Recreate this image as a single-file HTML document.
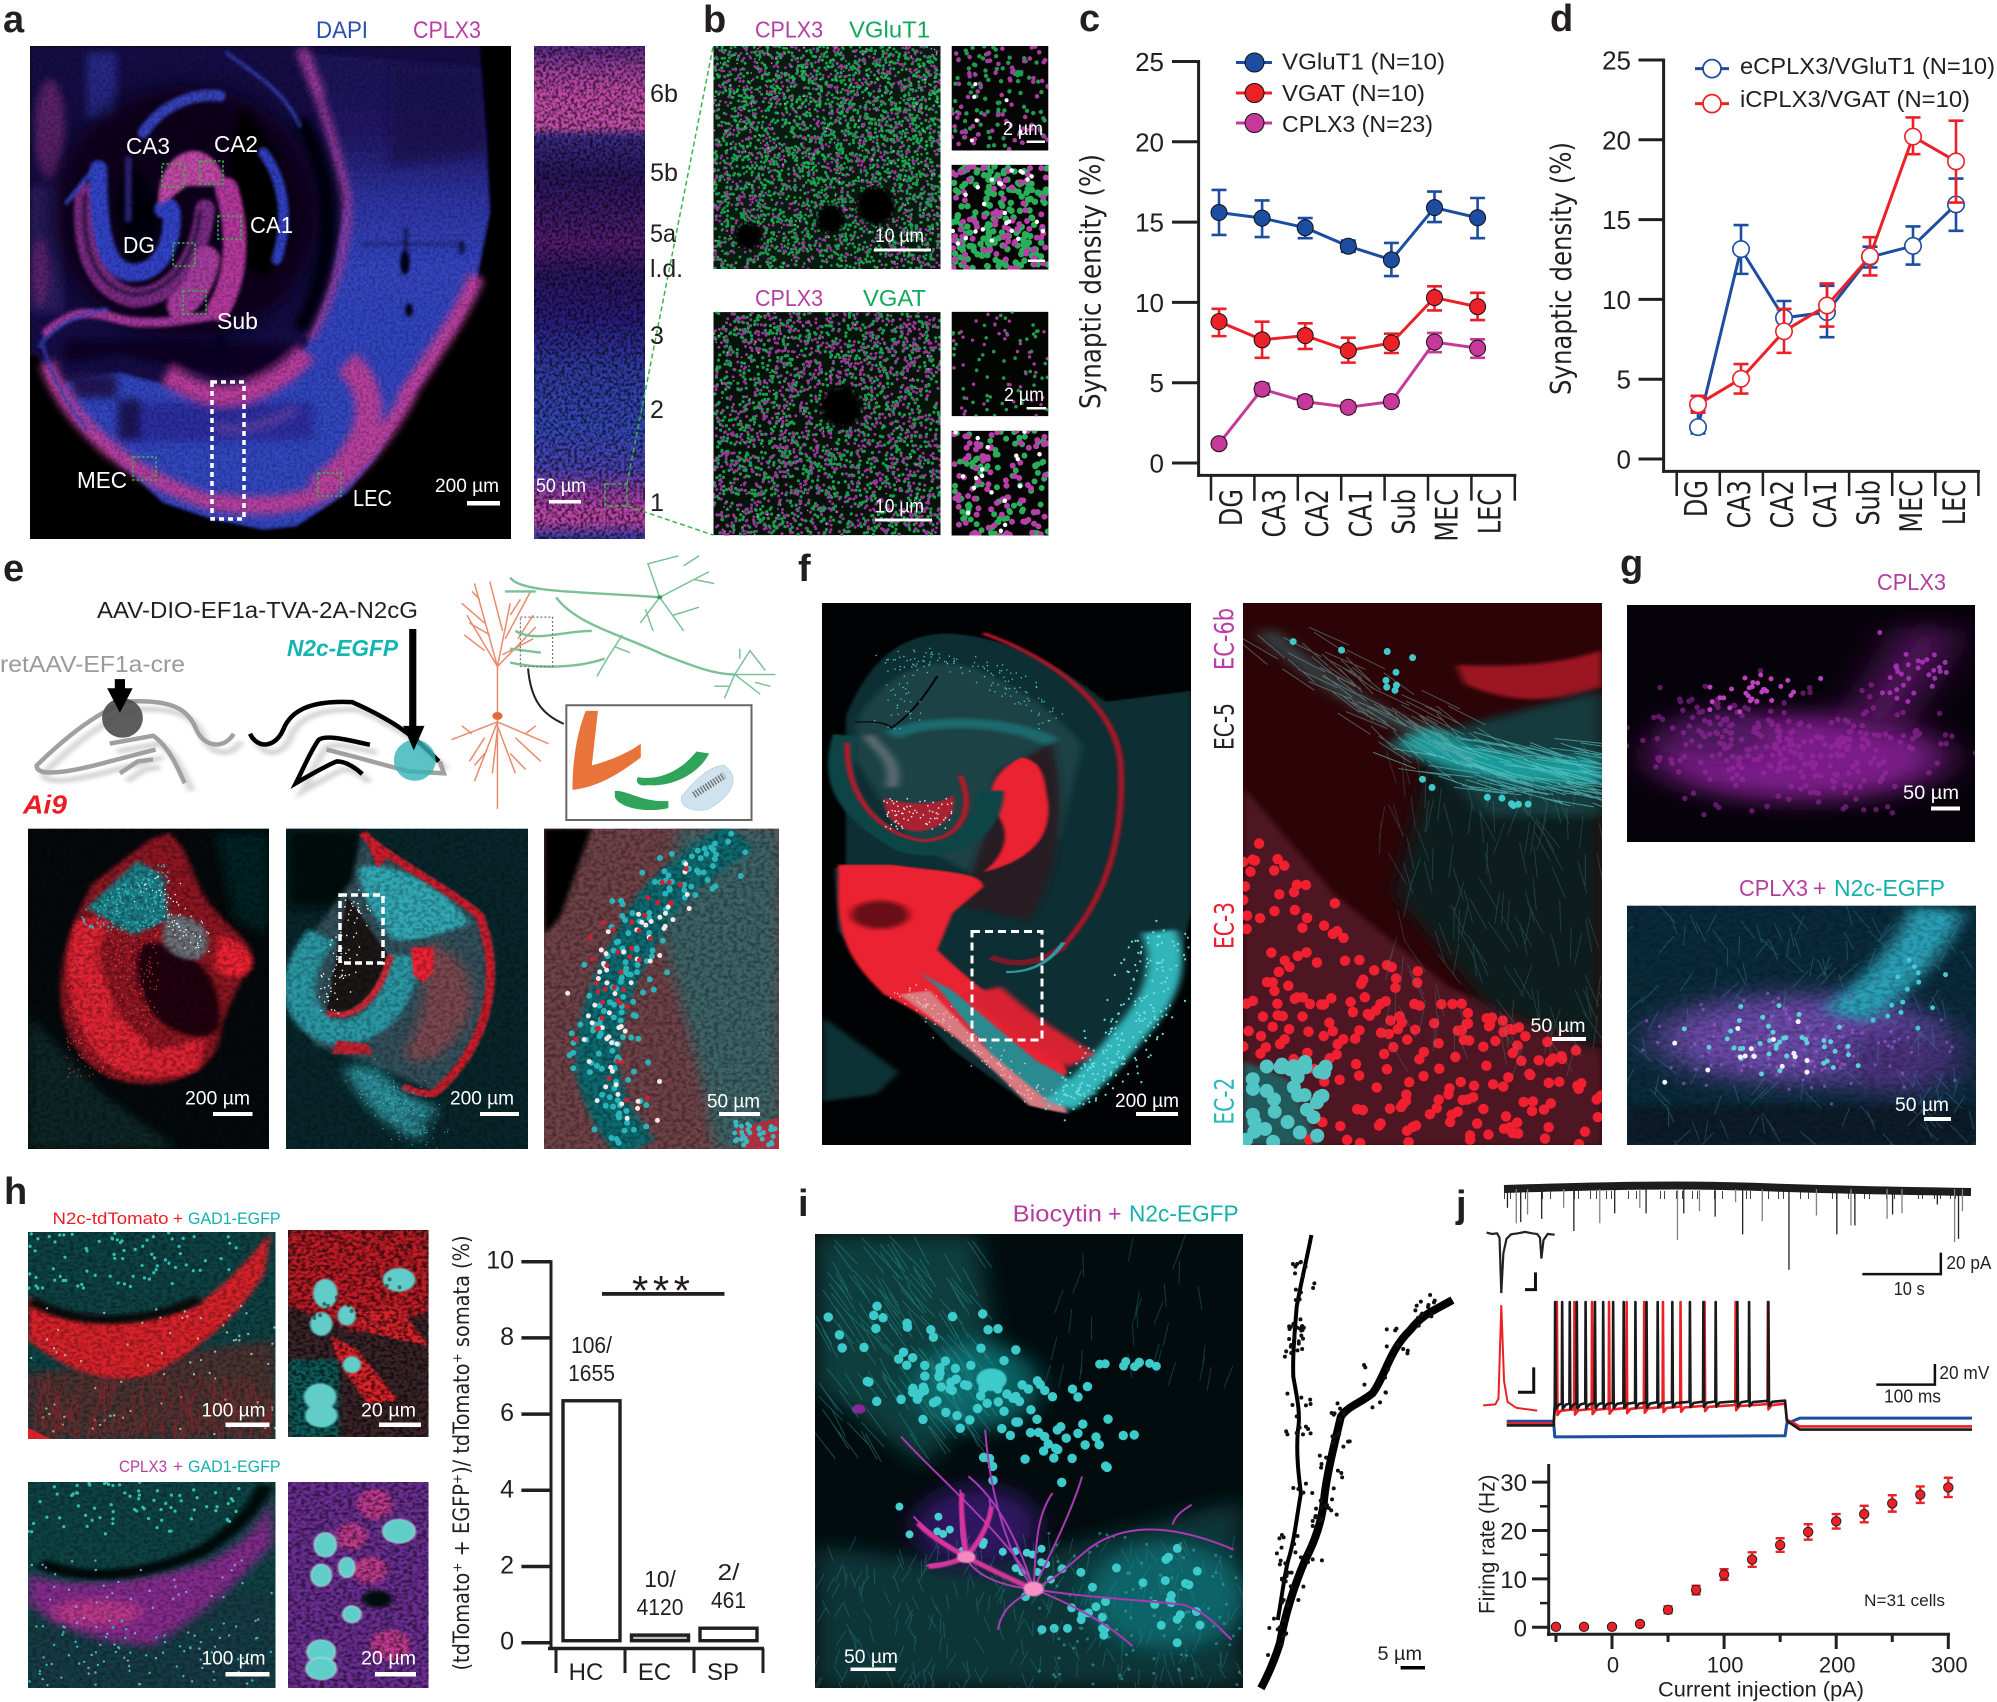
<!DOCTYPE html>
<html lang="en">
<head>
<meta charset="utf-8">
<title>Multi-panel figure: CPLX3 synaptic density and N2c tracing</title>
<style>
html,body{margin:0;padding:0;background:#fff;}
svg{display:block;}
text{font-family:"Liberation Sans",sans-serif;fill:#231f20;}
.ltr{font-weight:bold;font-size:38px;fill:#231f20;}
.wh{fill:#fff;font-size:19px;}
.wide{font-family:"DejaVu Sans",sans-serif;}
.ns{vector-effect:non-scaling-stroke;fill:none;}
</style>
</head>
<body>
<svg id="fig" xmlns="http://www.w3.org/2000/svg" width="1997" height="1702" viewBox="0 0 1997 1702">
<defs>
<filter id="b1" filterUnits="userSpaceOnUse" x="-500" y="-500" width="3500" height="3500"><feGaussianBlur stdDeviation="2"/></filter>
<filter id="b2" filterUnits="userSpaceOnUse" x="-500" y="-500" width="3500" height="3500"><feGaussianBlur stdDeviation="5"/></filter>
<filter id="b3" filterUnits="userSpaceOnUse" x="-500" y="-500" width="3500" height="3500"><feGaussianBlur stdDeviation="12"/></filter>
<filter id="b4" filterUnits="userSpaceOnUse" x="-500" y="-500" width="3500" height="3500"><feGaussianBlur stdDeviation="30"/></filter>
<filter id="grain" x="0" y="0" width="100%" height="100%"><feTurbulence type="fractalNoise" baseFrequency=".11" numOctaves="2" seed="4"/><feColorMatrix values="0 0 0 0 0 0 0 0 0 0 0 0 0 0 0 3.5 0 0 0 -1.4"/></filter>
<filter id="grainP" x="0" y="0" width="100%" height="100%"><feTurbulence type="fractalNoise" baseFrequency=".32" numOctaves="2" seed="9"/><feColorMatrix values="0 0 0 0 0 0 0 0 0 0 0 0 0 0 0 3.5 0 0 0 -1.4"/></filter>
<linearGradient id="aCortex" gradientUnits="userSpaceOnUse" x1="0" y1="100" x2="0" y2="1100"><stop offset="0" stop-color="#1c145a"/><stop offset=".18" stop-color="#231a68"/><stop offset=".36" stop-color="#2e34a4"/><stop offset=".55" stop-color="#3444c0"/><stop offset="1" stop-color="#3346c0"/></linearGradient>
<linearGradient id="aStrip" x1="0" y1="0" x2="0" y2="1">
<stop offset="0" stop-color="#5a2a88"/><stop offset=".05" stop-color="#a0409f"/><stop offset=".1" stop-color="#c24aa8"/><stop offset=".165" stop-color="#c04fa8"/><stop offset=".185" stop-color="#3c2c88"/><stop offset=".26" stop-color="#2a1660"/><stop offset=".34" stop-color="#3f1a6c"/><stop offset=".4" stop-color="#561c74"/><stop offset=".46" stop-color="#2b1662"/><stop offset=".55" stop-color="#2a1c7c"/><stop offset=".66" stop-color="#2f3ca4"/><stop offset=".78" stop-color="#3548b8"/><stop offset=".86" stop-color="#4a42b2"/><stop offset=".9" stop-color="#8c3ca6"/><stop offset=".945" stop-color="#bd46a8"/><stop offset=".965" stop-color="#b845a8"/><stop offset="1" stop-color="#2f3ca8"/></linearGradient>
</defs>

<!-- PANEL A -->
<text class="ltr" x="3" y="32">a</text>
<text x="316" y="38" font-size="24" style="fill:#2b4fb0" textLength="52" lengthAdjust="spacingAndGlyphs">DAPI</text>
<text x="413" y="38" font-size="24" style="fill:#b83fa3" textLength="68" lengthAdjust="spacingAndGlyphs">CPLX3</text>

<svg x="30" y="46" width="481" height="493" viewBox="0 0 1443 1479" preserveAspectRatio="none">
<rect width="1443" height="1479" fill="#000"/>
<path d="M0 0H1350L1370 300 1380 500 1340 700 1300 800 1200 960 1120 1090 1040 1230 950 1340 800 1440 700 1450 550 1420 400 1370 250 1230 140 1130 60 1000 20 930H0Z" fill="#150d46" filter="url(#b2)"/>
<path d="M820 20L1350 60 1370 300 1380 500 1340 700 1300 800 1200 960 1120 1090 1040 1230 950 1340 800 1440 700 1450 550 1420 400 1370 250 1230 140 1130 90 1010 270 980 420 1020 560 1080 700 1030 830 900 900 720 950 450 880 250Z" fill="url(#aCortex)" filter="url(#b2)"/>
<g filter="url(#b3)">
<path d="M1080 60L1350 70 1370 320 1080 360Z" fill="#1a1050" opacity=".7"/>
<path d="M260 1070L850 1070 850 1180 260 1190Z" fill="#2a2494" opacity=".7"/>
<path d="M110 880L540 890 800 900 680 990 560 990 420 960 270 925 100 950Z" fill="#0c0626"/>
<path d="M115 985L260 985 260 1055 135 1055Z" fill="#241656"/>
<rect x="265" y="1060" width="65" height="120" fill="#1c1258"/>
<rect x="170" y="20" width="90" height="200" fill="#2a3098" opacity=".8"/>
<ellipse cx="60" cy="250" rx="45" ry="150" fill="#6a2470" opacity=".8"/>
<path d="M0 420H100V800H0Z" fill="#2a1a60"/>
<ellipse cx="30" cy="680" rx="25" ry="100" fill="#5a2070"/>
<path d="M1340 690C1300 800 1200 940 1120 1060" stroke="#bb3f9e" stroke-width="48" fill="none"/>
<path d="M1140 1040C1070 1170 990 1270 880 1345 760 1395 640 1385 540 1368 420 1330 330 1280 240 1210 150 1130 90 1060 50 950" stroke="#bb3f9e" stroke-width="46" fill="none"/>
<path d="M950 950C1020 1010 1030 1100 1000 1170 960 1260 900 1300 860 1335" stroke="#b73f9e" stroke-width="80" fill="none"/>
<path d="M880 1340C760 1385 640 1385 560 1365" stroke="#b93f9e" stroke-width="52" fill="none"/>
<path d="M810 10C860 120 920 300 950 450 960 600 900 760 840 880" stroke="#a33c9c" stroke-width="24" fill="none"/>
<path d="M815 10L870 150" stroke="#9c3a9c" stroke-width="36" fill="none"/>
<path d="M830 920C750 1010 650 1055 560 1048 500 1035 450 1015 410 985" stroke="#b93e9c" stroke-width="62" fill="none"/>
<path d="M560 1140C620 1170 720 1130 800 1090" stroke="#5a3ca8" stroke-width="26" fill="none"/>
</g>
<ellipse cx="470" cy="500" rx="400" ry="380" fill="#09041e" filter="url(#b4)"/>
<g filter="url(#b3)">
<path d="M640 180C740 300 780 420 780 560 770 600 750 640 700 700L620 620 600 320Z" fill="#000"/>
<path d="M260 480C280 600 300 680 330 660 390 640 390 560 385 480 370 430 310 350 290 360Z" fill="#02010c"/>
<path d="M810 220C910 400 930 620 810 850" stroke="#03020e" stroke-width="46" fill="none"/>
</g>
<g filter="url(#b2)" fill="none" stroke-linecap="round">
<path d="M590 20C680 90 760 130 810 240" stroke="#3a46c0" stroke-width="9"/>
<path d="M340 260C400 170 500 140 570 150" stroke="#3542bc" stroke-width="34"/>
<path d="M700 320C760 400 780 520 740 640" stroke="#3240c4" stroke-width="32"/>
<path d="M295 340V520" stroke="#2e2278" stroke-width="20"/>
<path d="M165 440C150 600 190 730 310 755 430 755 510 640 525 490" stroke="#7a2a82" stroke-width="60"/>
<path d="M165 450C155 600 190 725 310 745 420 745 495 640 510 500" stroke="#2c1248" stroke-width="13"/>
<path d="M205 370C205 520 215 680 310 680 400 680 430 580 425 500 420 480 410 475 400 490" stroke="#3042c8" stroke-width="54"/>
<path d="M110 470L190 370" stroke="#3548c8" stroke-width="12"/>
<path d="M385 475C380 370 440 310 500 315 560 325 585 390 590 420L470 420 430 450Z" fill="#c04aa5"/>
<path d="M590 430C630 560 620 700 565 790" stroke="#b4389c" stroke-width="70"/>
<path d="M530 640C520 700 490 750 450 780" stroke="#a63d9e" stroke-width="80"/>
<path d="M540 810C420 830 330 840 250 815 180 795 130 790 50 860" stroke="#a5389c" stroke-width="28"/>
<path d="M30 900C60 850 140 800 230 790" stroke="#3a46c0" stroke-width="10"/>
<path d="M40 900C70 1010 120 1090 170 1150" stroke="#3642bc" stroke-width="8"/>
</g>
<g filter="url(#b2)" fill="#05031c">
<ellipse cx="1125" cy="650" rx="14" ry="36"/><ellipse cx="1137" cy="792" rx="11" ry="20"/>
<rect x="1120" y="545" width="14" height="110" opacity=".5"/><rect x="990" y="590" width="310" height="9" opacity=".35"/><ellipse cx="1295" cy="605" rx="10" ry="22" opacity=".6"/><rect x="560" y="850" width="24" height="80" opacity=".6"/>
</g>
<rect width="1443" height="1479" filter="url(#grain)" opacity=".22"/>
</svg>
<g fill="none" stroke="#39b54a" stroke-width="1.5" stroke-dasharray="2.5 2">
<rect x="162" y="164" width="22" height="23"/><rect x="200" y="161" width="23" height="23"/><rect x="218" y="216" width="23" height="23"/><rect x="173" y="243" width="22" height="23"/><rect x="183" y="291" width="23" height="23"/><rect x="133" y="457" width="23" height="23"/><rect x="318" y="473" width="23" height="23"/>
</g>
<rect x="212" y="382" width="32" height="137" fill="none" stroke="#fff" stroke-width="3.5" stroke-dasharray="5 4"/>
<g>
<text class="wh" x="126" y="154" textLength="44" lengthAdjust="spacingAndGlyphs" style="font-size:23px">CA3</text>
<text class="wh" x="214" y="152" style="font-size:23px" textLength="44" lengthAdjust="spacingAndGlyphs">CA2</text>
<text class="wh" x="250" y="233" style="font-size:23px" textLength="43" lengthAdjust="spacingAndGlyphs">CA1</text>
<text class="wh" x="123" y="253" style="font-size:23px" textLength="32" lengthAdjust="spacingAndGlyphs">DG</text>
<text class="wh" x="217" y="329" style="font-size:23px" textLength="41" lengthAdjust="spacingAndGlyphs">Sub</text>
<text class="wh" x="77" y="488" style="font-size:23px" textLength="50" lengthAdjust="spacingAndGlyphs">MEC</text>
<text class="wh" x="353" y="506" style="font-size:23px" textLength="39" lengthAdjust="spacingAndGlyphs">LEC</text>
<text class="wh" x="435" y="492" textLength="64" lengthAdjust="spacingAndGlyphs">200 µm</text>
<rect x="467" y="501" width="33" height="4.5" fill="#fff"/>
</g>

<svg x="534" y="46" width="111" height="493" viewBox="0 0 111 493" preserveAspectRatio="none">
<rect width="111" height="493" fill="url(#aStrip)"/>
<rect width="111" height="493" filter="url(#grainP)" opacity=".6"/>
</svg>
<text class="wh" x="536" y="492" textLength="50" lengthAdjust="spacingAndGlyphs">50 µm</text>
<rect x="549" y="500" width="32" height="3.5" fill="#fff"/>
<rect x="605" y="484" width="22" height="22" fill="none" stroke="#39b54a" stroke-width="1.5" stroke-dasharray="4 2.5"/>
<g stroke="#39b54a" stroke-width="1.5" stroke-dasharray="5 3">
<line x1="627" y1="484" x2="713" y2="47"/>
<line x1="627" y1="506" x2="713" y2="535"/>
</g>
<g font-size="25">
<text x="650" y="102" textLength="28" lengthAdjust="spacingAndGlyphs">6b</text>
<text x="650" y="181" textLength="28" lengthAdjust="spacingAndGlyphs">5b</text>
<text x="650" y="242" textLength="26" lengthAdjust="spacingAndGlyphs">5a</text>
<text x="650" y="277" textLength="33" lengthAdjust="spacingAndGlyphs">l.d.</text>
<text x="650" y="344">3</text>
<text x="650" y="418">2</text>
<text x="650" y="511">1</text>
</g>

<!-- PANEL B -->
<text class="ltr" x="703" y="32">b</text>
<text x="755" y="37.6" font-size="23" style="fill:#b23fa0" textLength="68" lengthAdjust="spacingAndGlyphs">CPLX3</text>
<text x="849" y="37.6" font-size="23" style="fill:#12a85a" textLength="81" lengthAdjust="spacingAndGlyphs">VGluT1</text>
<text x="755" y="306" font-size="23" style="fill:#b23fa0" textLength="68" lengthAdjust="spacingAndGlyphs">CPLX3</text>
<text x="863" y="306" font-size="23" style="fill:#12a85a" textLength="63" lengthAdjust="spacingAndGlyphs">VGAT</text>
<svg id="b1a" x="713.5" y="46" width="227" height="223" viewBox="0 0 227 223"><rect width="227" height="223" fill="#0a1a10"/></svg>
<svg id="b1b" x="951.5" y="46" width="97" height="104.5" viewBox="0 0 97 105"><rect width="97" height="105" fill="#050505"/></svg>
<svg id="b1c" x="951.5" y="164.7" width="97" height="104.8" viewBox="0 0 97 105"><rect width="97" height="105" fill="#050505"/></svg>
<svg id="b2a" x="713.5" y="311.7" width="227" height="223.8" viewBox="0 0 227 223"><rect width="227" height="223" fill="#07120b"/></svg>
<svg id="b2b" x="951.5" y="311.7" width="97" height="104.5" viewBox="0 0 97 105"><rect width="97" height="105" fill="#030503"/></svg>
<svg id="b2c" x="951.5" y="430.7" width="97" height="104.8" viewBox="0 0 97 105"><rect width="97" height="105" fill="#050505"/></svg>
<g>
<text class="wh" x="875" y="242" textLength="49" lengthAdjust="spacingAndGlyphs">10 µm</text><rect x="874" y="248.5" width="57" height="3" fill="#fff"/>
<text class="wh" x="1003" y="135" textLength="40" lengthAdjust="spacingAndGlyphs">2 µm</text><rect x="1026.6" y="140.5" width="18.4" height="2.5" fill="#fff"/>
<rect x="1028" y="259.5" width="17" height="2.5" fill="#fff"/>
<text class="wh" x="875" y="512.6" textLength="49" lengthAdjust="spacingAndGlyphs">10 µm</text><rect x="875" y="518.5" width="57" height="3" fill="#fff"/>
<text class="wh" x="1004" y="401" textLength="40" lengthAdjust="spacingAndGlyphs">2 µm</text><rect x="1026.6" y="407" width="19.4" height="2.5" fill="#fff"/>
</g>

<!-- PANEL C and D -->
<text class="ltr" x="1079" y="31">c</text>
<text class="ltr" x="1550" y="31">d</text>
<g id="chartC">
<text class="wide" transform="translate(1100.6,409) rotate(-90) scale(1,1.28)" font-size="22" textLength="255" lengthAdjust="spacingAndGlyphs">Synaptic density (%)</text>
</g>
<g>
<g><line x1="1236" x2="1272" y1="62.5" y2="62.5" stroke="#1c4da1" stroke-width="3"/><circle cx="1254.5" cy="62.5" r="9.5" fill="#1c4da1" stroke="#111" stroke-width="1"/><text x="1282" y="69.6" font-size="23" textLength="163" lengthAdjust="spacingAndGlyphs">VGluT1 (N=10)</text></g>
<g><line x1="1236" x2="1272" y1="93" y2="93" stroke="#ec2027" stroke-width="3"/><circle cx="1254.5" cy="93" r="9.5" fill="#ec2027" stroke="#111" stroke-width="1"/><text x="1282" y="101" font-size="23" textLength="143" lengthAdjust="spacingAndGlyphs">VGAT (N=10)</text></g>
<g><line x1="1236" x2="1272" y1="123" y2="123" stroke="#c6399a" stroke-width="3"/><circle cx="1254.5" cy="123" r="9.5" fill="#c6399a" stroke="#111" stroke-width="1"/><text x="1282" y="132" font-size="23" textLength="151" lengthAdjust="spacingAndGlyphs">CPLX3 (N=23)</text></g>
</g>
<g id="chartD">
<text class="wide" transform="translate(1571,395) rotate(-90) scale(1,1.28)" font-size="22" textLength="253" lengthAdjust="spacingAndGlyphs">Synaptic density (%)</text>
</g>
<g>
<g><line x1="1695" x2="1729" y1="68.6" y2="68.6" stroke="#1c4da1" stroke-width="3"/><circle cx="1712" cy="68.6" r="9" fill="#fff" stroke="#1c4da1" stroke-width="1.8"/><text x="1740" y="74" font-size="23" textLength="255" lengthAdjust="spacingAndGlyphs">eCPLX3/VGluT1 (N=10)</text></g>
<g><line x1="1695" x2="1729" y1="103.6" y2="103.6" stroke="#ec2027" stroke-width="3"/><circle cx="1712" cy="103.6" r="9" fill="#fff" stroke="#ec2027" stroke-width="1.8"/><text x="1740" y="107" font-size="23" textLength="230" lengthAdjust="spacingAndGlyphs">iCPLX3/VGAT (N=10)</text></g>
</g>

<!-- PANEL E -->
<text class="ltr" x="3" y="581">e</text>
<text x="97" y="618" font-size="23" textLength="321" lengthAdjust="spacingAndGlyphs">AAV-DIO-EF1a-TVA-2A-N2cG</text>
<text x="287" y="656" font-size="23" font-weight="bold" font-style="italic" style="fill:#12b5b0" textLength="111" lengthAdjust="spacingAndGlyphs">N2c-EGFP</text>
<text x="0" y="672" font-size="23" style="fill:#9a9a9a" textLength="185" lengthAdjust="spacingAndGlyphs">retAAV-EF1a-cre</text>
<text x="23" y="813.6" font-size="26" font-weight="bold" font-style="italic" style="fill:#ed1c24" textLength="44" lengthAdjust="spacingAndGlyphs">Ai9</text>
<svg x="0" y="540" width="800" height="620" viewBox="0 0 1568 1568" preserveAspectRatio="none">
<g>
<g transform="translate(14,20)" opacity=".35" filter="url(#b2)"><path d="M458 490C440 530 400 525 385 480 370 430 340 405 260 408 200 420 120 510 72 570 70 600 130 590 215 560L305 530M215 515L300 495C330 520 350 580 362 615M235 590L270 560 300 555" stroke="#888" stroke-width="14" fill="none"/></g>
<path d="M458 490C440 530 400 525 385 480 370 430 340 405 260 408 200 420 120 510 72 570 70 600 130 590 215 560L305 530M215 515L300 495C330 520 350 580 362 615M235 590L270 560 300 555" class="ns" stroke="#a0a0a0" stroke-width="4.5"/>
</g>
<ellipse cx="240" cy="450" rx="40" ry="50" fill="#4f4f4f" opacity=".92"/>
<path d="M225 352H245V375H260L235 437 210 375H225Z" fill="#000"/>
<g>
<g transform="translate(14,20)" opacity=".35" filter="url(#b2)"><path d="M490 490C505 530 540 525 555 480 570 430 610 405 690 410 760 450 810 490 860 560M725 518C680 505 640 492 625 505 610 530 590 590 580 615 600 600 640 570 660 560 680 560 700 580 710 592" stroke="#888" stroke-width="14" fill="none"/></g>
<path d="M640 530L700 550 800 585 870 590 862 560" class="ns" stroke="#a0a0a0" stroke-width="4.5"/>
<path d="M490 490C505 530 540 525 555 480 570 430 610 405 690 410 760 450 810 490 860 560M725 518C680 505 640 492 625 505 610 530 590 590 580 615 600 600 640 570 660 560 680 560 700 580 710 592" class="ns" stroke="#000" stroke-width="4.5"/>
</g>
<ellipse cx="813" cy="557" rx="41" ry="52" fill="#35b3b8" opacity=".8"/>
<path d="M802 225H816V470H832L811 532 790 470H802Z" fill="#000"/>
<g class="ns" stroke="#e98a6c" stroke-width="1.5">
<path class="ns" d="M975 680V320M975 320L930 110M975 320L1000 160M975 320L1050 220M975 320L915 190M950 210L905 160M990 250L1040 130M985 230L960 105M940 150L925 130M960 240L920 210M1015 250L1045 190M1000 190L1020 150M950 280L910 240M985 290L1045 250"/>
<path class="ns" d="M975 460L885 505M975 460L930 610M975 460L1075 515M975 470L1010 590M950 500L920 560M1010 500L1060 560M975 480L965 590M925 490L905 470M1030 490L1050 470M950 540L930 570M1000 540L1030 580"/>
<circle cx="975" cy="445" r="10" fill="#e06b3c" stroke="none"/>
</g>
<g stroke="#7cc096" stroke-width="1.5">
<path class="ns" stroke-width="2.4" d="M1000 95C1020 135 1150 130 1293 145M1090 145C1130 215 1220 240 1300 290 1360 320 1400 340 1440 340M1000 310C1050 325 1130 325 1185 300M990 130L1050 130M1010 230C1050 260 1100 230 1160 230M1000 275L1060 285"/>
<path class="ns" d="M1293 145L1270 60 1330 40M1293 145L1390 80M1293 145L1340 230M1293 145L1255 210M1340 65L1370 40M1360 100L1400 110M1265 175L1280 230M1320 190L1370 170M1440 340L1420 400M1440 340L1470 280 1500 330M1440 340L1520 340M1440 340L1490 390M1190 300L1220 240M1190 300L1170 345M1205 270L1235 285M1450 300L1450 275M1430 370L1400 370M1480 360L1510 370"/>
<circle cx="1293" cy="145" r="5" fill="#2f9a5c" stroke="none"/>
</g>
<rect x="1020" y="195" width="63" height="125" class="ns" stroke="#777" stroke-width="1.2" stroke-dasharray="2 2"/>
<path d="M1035 325C1040 400 1060 440 1105 465" class="ns" stroke="#222" stroke-width="2"/>
<rect x="1110" y="418" width="363" height="290" fill="#fff" stroke="#666" stroke-width="1"/>
<rect x="1110" y="418" width="363" height="290" class="ns" stroke="#666" stroke-width="2"/>
<path d="M1148 432H1172L1160 570C1190 560 1230 540 1256 515L1256 550C1210 595 1170 625 1122 632 1122 560 1130 490 1148 432Z" fill="#e8743c"/>
<path d="M1250 600C1300 610 1340 575 1365 535L1390 540C1370 590 1320 625 1270 620 1250 625 1245 610 1250 600Z" fill="#2fa45a"/>
<path d="M1205 635C1225 630 1260 665 1310 660V678C1270 690 1215 680 1205 650Z" fill="#2fa45a"/>
<path d="M1335 650C1360 610 1390 570 1420 570 1450 600 1440 640 1390 680 1360 690 1335 680 1335 650Z" fill="#cfe3ee" stroke="#9dbfd4"/>
<path d="M1360 645L1420 595" class="ns" stroke="#777" stroke-width="7" stroke-dasharray="1.5 1.5"/>
</svg>

<!-- E images -->
<svg id="e1" x="28" y="828.6" width="241" height="320.4" viewBox="55 730 472 810" preserveAspectRatio="none">
<rect x="55" y="730" width="472" height="810" fill="#04090b"/>
<path d="M55 1200L200 1400 350 1540H55Z" fill="#0a2628" filter="url(#b3)"/>
<path d="M420 740H527V1000L460 960Z" fill="#062022" filter="url(#b3)"/>
<path d="M180 870C150 950 110 1050 120 1180 130 1290 190 1370 270 1375 340 1385 420 1340 430 1260 440 1180 470 1130 495 1060 490 1000 440 980 400 900 370 830 370 780 330 740L290 760C250 800 220 830 180 870Z" fill="#8e1824" filter="url(#b2)"/>
<path d="M150 960C120 1060 130 1200 190 1300 240 1370 320 1370 390 1340L400 1260 300 1290 230 1200 190 1050 220 950Z" fill="#dd2030" filter="url(#b2)"/>
<path d="M430 1000C470 1010 490 1040 495 1070 490 1110 450 1120 420 1080Z" fill="#ee2030" filter="url(#b2)"/>
<path d="M170 930L270 810 320 850 330 960 260 1000Z" fill="#1f8088" filter="url(#b2)"/>
<path d="M280 1020C340 1010 440 1070 430 1230 410 1280 320 1250 290 1180 270 1130 260 1070 280 1020Z" fill="#220407" filter="url(#b2)"/>
<path d="M330 950C400 940 430 1020 390 1060 350 1070 310 1030 320 990Z" fill="#6c7278" filter="url(#b2)"/>
<rect x="55" y="730" width="472" height="810" filter="url(#grain)" opacity=".3"/>
</svg>
<svg id="e2" x="286" y="828.6" width="242" height="320.4" viewBox="560 730 475 810" preserveAspectRatio="none">
<rect x="560" y="730" width="475" height="810" fill="#08262a"/>
<rect x="560" y="730" width="150" height="200" fill="#04090b" filter="url(#b3)"/>
<path d="M710 740C750 800 900 880 950 960 990 1100 960 1280 860 1400L720 1320 620 1280C570 1200 570 1080 610 1000L690 860Z" fill="#30505a" filter="url(#b2)"/>
<path d="M840 1020C900 1040 940 1110 920 1200 890 1290 830 1350 790 1300 840 1200 830 1110 840 1020Z" fill="#7a4650" filter="url(#b3)"/>
<path d="M700 830C760 800 880 880 920 970 860 1000 800 1020 770 1010 730 950 710 900 700 830Z" fill="#30a8b4" filter="url(#b2)"/>
<path d="M710 740C750 800 880 880 940 950 985 1100 960 1280 850 1400 820 1400 800 1390 790 1380" stroke="#c81e2c" stroke-width="18" fill="none" filter="url(#b1)"/>
<path d="M710 740L770 790 740 830Z" fill="#c81e2c"/>
<path d="M630 1000C570 1100 570 1190 640 1240 720 1270 790 1170 790 1050" stroke="#2b98a4" stroke-width="62" fill="none" filter="url(#b2)"/>
<path d="M640 1190C690 1210 750 1150 760 1050L680 900 660 1040Z" fill="#1a1518" filter="url(#b1)"/>
<path d="M640 1195C690 1220 745 1160 765 1050" stroke="#cc2a38" stroke-width="14" fill="none" filter="url(#b1)"/>
<path d="M805 1030H850V1090L830 1120 810 1100Z" fill="#ee2030" filter="url(#b1)"/>
<path d="M660 1265L720 1275 730 1300 650 1300Z" fill="#c02030" filter="url(#b1)"/>
<path d="M690 1330C730 1420 770 1470 830 1500M720 1340C760 1400 800 1440 850 1450" stroke="#2a8a94" stroke-width="40" fill="none" filter="url(#b3)"/>
<rect x="560" y="730" width="475" height="810" filter="url(#grain)" opacity=".25"/>
</svg>
<rect x="340" y="895" width="43" height="68" fill="none" stroke="#fff" stroke-width="3.5" stroke-dasharray="7 4"/>
<svg id="e3" x="544" y="828.6" width="235" height="320.4" viewBox="1067 730 460 810" preserveAspectRatio="none">
<rect x="1067" y="730" width="460" height="810" fill="#6e4248"/>
<path d="M1330 730H1527V1540H1400C1380 1350 1330 1150 1300 1000Z" fill="#3e6466" filter="url(#b3)"/>
<path d="M1067 730H1160L1100 950 1067 1000Z" fill="#040405" filter="url(#b2)"/>
<path d="M1450 750C1370 820 1290 880 1260 980 1210 1090 1170 1200 1170 1330 1180 1420 1220 1500 1250 1540" stroke="#106a70" stroke-width="85" fill="none" filter="url(#b2)"/>
<rect x="1067" y="730" width="460" height="810" filter="url(#grain)" opacity=".3"/>
<path d="M1440 1490L1527 1460V1540H1460Z" fill="#a83040"/>
</svg>
<g>
<text class="wh" x="185" y="1104.6" textLength="65" lengthAdjust="spacingAndGlyphs">200 µm</text><rect x="213" y="1112" width="39.5" height="4" fill="#fff"/>
<text class="wh" x="450" y="1104.6" textLength="64" lengthAdjust="spacingAndGlyphs">200 µm</text><rect x="480" y="1112" width="39" height="4" fill="#fff"/>
<text class="wh" x="707" y="1107.4" textLength="53" lengthAdjust="spacingAndGlyphs">50 µm</text><rect x="719" y="1112" width="41" height="4" fill="#fff"/>
</g>

<!-- PANEL F -->
<text class="ltr" x="798" y="581">f</text>
<svg id="f1" x="822" y="603" width="369" height="542" viewBox="29 63 483 1464" preserveAspectRatio="none">
<rect x="29" y="63" width="483" height="1464" fill="#010203"/>
<path d="M60 370C90 220 130 150 190 145 270 150 340 230 400 330L512 300V900L490 1100 430 1280 350 1445 300 1420 200 1270 130 1120 50 950 45 780 60 770Z" fill="#0b2f31" filter="url(#b1)"/>
<path d="M29 1180L130 1330 100 1390 29 1410Z" fill="#0c3234" filter="url(#b2)"/>
<path d="M75 380C110 250 170 200 230 240 300 300 350 390 370 450L340 700 230 800 140 700 70 480Z" fill="#1c4244" filter="url(#b2)"/>
<path d="M330 440C350 600 340 800 300 920L210 880 240 700 260 520Z" fill="#261a20" filter="url(#b2)"/>
<path d="M120 420C170 370 280 380 330 440" stroke="#1c6a6e" stroke-width="26" fill="none" filter="url(#b2)"/>
<path d="M240 145C330 210 415 340 420 500 425 700 400 870 340 1000" stroke="#a81428" stroke-width="8" fill="none" filter="url(#b1)"/>
<path d="M50 770L120 770C190 790 240 790 240 830L200 900 180 1000C220 1080 280 1180 330 1230L350 1330 330 1390C250 1300 170 1180 110 1120 70 1040 50 980 50 850Z" fill="#ea2030" filter="url(#b1)"/>
<ellipse cx="105" cy="905" rx="38" ry="38" fill="#6a1018" filter="url(#b2)"/>
<path d="M290 480C250 520 240 590 260 640 280 700 260 760 240 790 300 760 330 700 325 600 320 540 320 490 290 480Z" fill="#ea2030" filter="url(#b1)"/>
<path d="M60 420C40 560 70 640 140 720 190 750 250 690 250 570" stroke="#0f4446" stroke-width="34" fill="none" filter="url(#b1)"/>
<path d="M62 440C60 600 110 690 160 705 210 705 230 620 210 530" stroke="#c01828" stroke-width="7" fill="none" filter="url(#b1)"/>
<path d="M110 590C140 610 190 610 200 580 210 640 180 680 150 680 120 670 110 630 110 590Z" fill="#a82430" filter="url(#b1)"/>
<path d="M90 420C100 460 130 480 120 560" stroke="#5a6a70" stroke-width="16" fill="none" filter="url(#b2)"/>
<path d="M240 1110C280 1190 320 1240 370 1300" stroke="#d82030" stroke-width="52" fill="none" filter="url(#b2)"/>
<path d="M130 1120C170 1180 230 1270 300 1420 340 1440 350 1440 350 1440L340 1380 240 1260 170 1110Z" fill="#d87a80" filter="url(#b1)"/>
<path d="M155 1060L180 1100 250 1280 320 1400 390 1390 310 1300 200 1110Z" fill="#2a8a90" filter="url(#b1)"/>
<path d="M470 950C490 1050 470 1140 430 1230 400 1310 370 1370 340 1420" stroke="#30b4b8" stroke-width="46" fill="none" filter="url(#b2)"/>
<path d="M345 990C320 1030 290 1050 250 1020" stroke="#7a1828" stroke-width="14" fill="none"/>
<path d="M345 980C325 1040 300 1060 270 1060" stroke="#2a9a9e" stroke-width="6" fill="none"/>
<path d="M72 385Q110 380 120 400 150 360 180 260" stroke="#050505" stroke-width="3" fill="none"/>
</svg>
<rect x="972" y="931.5" width="70" height="108.5" fill="none" stroke="#fff" stroke-width="3" stroke-dasharray="8 5"/>
<text class="wh" x="1115" y="1107" textLength="64" lengthAdjust="spacingAndGlyphs">200 µm</text><rect x="1136" y="1112" width="42" height="4" fill="#fff"/>
<g>
<text class="wide" transform="translate(1233.6,670) rotate(-90) scale(1,1.25)" font-size="21" style="fill:#b83fa8" textLength="62" lengthAdjust="spacingAndGlyphs">EC-6b</text>
<text class="wide" transform="translate(1233.6,750) rotate(-90) scale(1,1.25)" font-size="21" style="fill:#222" textLength="47" lengthAdjust="spacingAndGlyphs">EC-5</text>
<text class="wide" transform="translate(1233.6,949) rotate(-90) scale(1,1.25)" font-size="21" style="fill:#e82030" textLength="47" lengthAdjust="spacingAndGlyphs">EC-3</text>
<text class="wide" transform="translate(1233.6,1124.6) rotate(-90) scale(1,1.25)" font-size="21" style="fill:#2bb8b8" textLength="47" lengthAdjust="spacingAndGlyphs">EC-2</text>
</g>
<svg id="f2" x="1243" y="603" width="359" height="542" viewBox="580 63 471 1464" preserveAspectRatio="none">
<rect x="580" y="63" width="471" height="1464" fill="#2c0407"/>
<path d="M860 230C950 240 1010 220 1051 190V290C990 340 920 330 870 280Z" fill="#9c1420" filter="url(#b2)"/>
<path d="M580 560L700 850 850 1100 1051 1270V1527H580Z" fill="#4e1820" filter="url(#b2)"/>
<path d="M830 430L1051 300V1270L900 1150 780 850Z" fill="#081c1e" filter="url(#b3)"/>
<path d="M800 430L1051 300V640L900 640Z" fill="#123a3c" filter="url(#b3)"/>
<path d="M610 140C680 270 760 380 850 440" stroke="#3c7476" stroke-width="22" fill="none" filter="url(#b3)" opacity=".7"/>
<path d="M800 420C870 500 960 530 1051 510" stroke="#1f9a9a" stroke-width="70" fill="none" filter="url(#b3)"/>
<path d="M580 1300L640 1350 680 1527H580Z" fill="#225a5c" filter="url(#b2)"/>
</svg>
<text class="wh" x="1530.5" y="1032" textLength="55" lengthAdjust="spacingAndGlyphs">50 µm</text><rect x="1552" y="1037" width="34" height="4" fill="#fff"/>

<!-- PANEL G -->
<text class="ltr" x="1620" y="576">g</text>
<text x="1877" y="590" font-size="23" style="fill:#b23fa0" textLength="69" lengthAdjust="spacingAndGlyphs">CPLX3</text>
<text x="1739" y="896" font-size="23" style="fill:#b23fa0" textLength="69" lengthAdjust="spacingAndGlyphs">CPLX3</text>
<text x="1813" y="896" font-size="23" style="fill:#b23fa0">+</text>
<text x="1834" y="896" font-size="23" style="fill:#14b0ac" textLength="111" lengthAdjust="spacingAndGlyphs">N2c-EGFP</text>
<svg id="g1" x="1627" y="605" width="348" height="237" viewBox="1083 67 456 641" preserveAspectRatio="none">
<rect x="1083" y="67" width="456" height="641" fill="#06020a"/>
<ellipse cx="1310" cy="480" rx="190" ry="115" fill="#7a1e88" filter="url(#b4)"/>
<path d="M1400 400C1430 300 1470 200 1480 130" stroke="#581864" stroke-width="70" fill="none" filter="url(#b4)"/>
<ellipse cx="1200" cy="420" rx="70" ry="60" fill="#4a1258" filter="url(#b4)"/>
</svg>
<text class="wh" x="1903" y="799" textLength="56" lengthAdjust="spacingAndGlyphs">50 µm</text><rect x="1931" y="806.5" width="29" height="4" fill="#fff"/>
<svg id="g2" x="1627" y="905.6" width="349" height="239.4" viewBox="1083 880 458 647" preserveAspectRatio="none">
<rect x="1083" y="880" width="458" height="647" fill="#0a2a3a"/>
<rect x="1083" y="1420" width="458" height="107" fill="#0a1a2a" filter="url(#b2)"/>
<ellipse cx="1310" cy="1240" rx="190" ry="120" fill="#6a48a8" filter="url(#b4)"/>
<path d="M1490 890C1470 1000 1420 1100 1370 1180" stroke="#2aa0b8" stroke-width="70" fill="none" filter="url(#b3)"/>
<ellipse cx="1440" cy="1300" rx="80" ry="90" fill="#46307a" filter="url(#b4)"/>
<rect x="1083" y="880" width="458" height="647" filter="url(#grain)" opacity=".2"/>
</svg>
<text class="wh" x="1895" y="1111" textLength="54" lengthAdjust="spacingAndGlyphs">50 µm</text><rect x="1924" y="1117" width="27" height="4" fill="#fff"/>

<!-- PANEL H -->
<text class="ltr" x="4" y="1204">h</text>
<text x="52.5" y="1224" font-size="17" style="fill:#ed1c24" textLength="116" lengthAdjust="spacingAndGlyphs">N2c-tdTomato</text>
<text x="173" y="1224" font-size="17" style="fill:#ed1c24">+</text>
<text x="188" y="1224" font-size="17" style="fill:#14b0ac" textLength="92.6" lengthAdjust="spacingAndGlyphs">GAD1-EGFP</text>
<text x="119" y="1472" font-size="17" style="fill:#b23fa0" textLength="48" lengthAdjust="spacingAndGlyphs">CPLX3</text>
<text x="173" y="1472" font-size="17" style="fill:#b23fa0">+</text>
<text x="188" y="1472" font-size="17" style="fill:#14b0ac" textLength="92.6" lengthAdjust="spacingAndGlyphs">GAD1-EGFP</text>
<svg id="h1" x="28" y="1232" width="247.5" height="207" viewBox="55 183 485 610" preserveAspectRatio="none">
<rect x="55" y="183" width="485" height="610" fill="#0e4244"/>
<path d="M55 600L540 500V793H55Z" fill="#4a3030" filter="url(#b3)"/>
<path d="M55 370C120 470 260 460 380 400 440 350 500 240 530 185L520 300C470 430 400 520 300 600 200 650 100 560 55 500Z" fill="#d8202c" filter="url(#b2)"/>
<path d="M60 385C160 470 300 450 390 380" stroke="#090808" stroke-width="26" fill="none" filter="url(#b2)"/>
<rect x="55" y="183" width="485" height="610" filter="url(#grain)" opacity=".3"/>
<path d="M55 760L100 793H55Z" fill="#d8202c"/>
</svg>
<svg id="h2" x="288" y="1230" width="140.6" height="207" viewBox="565 178 275 610" preserveAspectRatio="none">
<rect x="565" y="178" width="275" height="610" fill="#3a2428"/>
<path d="M565 178H840V420L700 480 565 400Z" fill="#c01c28" filter="url(#b2)"/>
<path d="M650 490L700 530 780 680 720 690 660 560Z" fill="#e0202c" filter="url(#b1)"/>
<path d="M700 420L780 400 840 520 720 480Z" fill="#d8202c" filter="url(#b1)"/>
<rect x="565" y="560" width="100" height="228" fill="#0d5a5a" filter="url(#b2)"/>
<rect x="565" y="178" width="275" height="610" filter="url(#grain)" opacity=".6"/>
<g fill="#62cdc8" filter="url(#b1)"><ellipse cx="638" cy="365" rx="24" ry="43"/><ellipse cx="782" cy="325" rx="32" ry="35"/><ellipse cx="630" cy="455" rx="22" ry="35"/><ellipse cx="680" cy="430" rx="18" ry="30"/><ellipse cx="690" cy="575" rx="18" ry="25"/><ellipse cx="628" cy="670" rx="32" ry="40"/><ellipse cx="630" cy="725" rx="32" ry="35"/></g>
</svg>
<svg id="h3" x="28" y="1482" width="247.5" height="206" viewBox="55 920 485 607" preserveAspectRatio="none">
<rect x="55" y="920" width="485" height="607" fill="#0e4244"/>
<path d="M55 1320L540 1240V1527H55Z" fill="#123a44" filter="url(#b3)"/>
<path d="M55 1190C150 1250 300 1200 400 1160 470 1110 510 1060 530 960L535 1100C470 1210 400 1310 300 1400 180 1400 100 1330 55 1280Z" fill="#842a8c" filter="url(#b3)"/>
<path d="M80 1160C180 1220 300 1190 400 1120 460 1060 500 1000 520 930" stroke="#050808" stroke-width="30" fill="none" filter="url(#b2)"/>
<ellipse cx="190" cy="1305" rx="90" ry="40" fill="#b8388c" filter="url(#b3)"/>
<rect x="55" y="920" width="485" height="607" filter="url(#grain)" opacity=".25"/>
</svg>
<svg id="h4" x="288" y="1482" width="140.6" height="206" viewBox="565 920 275 607" preserveAspectRatio="none">
<rect x="565" y="920" width="275" height="607" fill="#6a2e92"/>
<g fill="#c03a90" filter="url(#b2)"><ellipse cx="735" cy="985" rx="35" ry="45"/><ellipse cx="690" cy="1080" rx="30" ry="40"/><ellipse cx="725" cy="1180" rx="35" ry="40"/><ellipse cx="765" cy="1400" rx="40" ry="45"/></g>
<rect x="565" y="920" width="275" height="607" filter="url(#grain)" opacity=".5"/>
<ellipse cx="740" cy="1265" rx="30" ry="25" fill="#050a08" filter="url(#b2)"/>
<g fill="#5ecdc8" stroke="#cfeef0" stroke-width="2" filter="url(#b1)"><ellipse cx="638" cy="1105" rx="22" ry="36"/><ellipse cx="782" cy="1065" rx="32" ry="35"/><ellipse cx="630" cy="1195" rx="20" ry="33"/><ellipse cx="680" cy="1172" rx="16" ry="30"/><ellipse cx="690" cy="1310" rx="18" ry="25"/><ellipse cx="630" cy="1420" rx="28" ry="35"/><ellipse cx="630" cy="1470" rx="30" ry="33"/></g>
</svg>
<g>
<text class="wh" x="201.5" y="1416.7" textLength="64" lengthAdjust="spacingAndGlyphs">100 µm</text><rect x="225.5" y="1422.5" width="44" height="4.5" fill="#fff"/>
<text class="wh" x="361" y="1416.7" textLength="55" lengthAdjust="spacingAndGlyphs">20 µm</text><rect x="379" y="1422.5" width="42" height="4.5" fill="#fff"/>
<text class="wh" x="201.5" y="1664.7" textLength="64" lengthAdjust="spacingAndGlyphs">100 µm</text><rect x="225.5" y="1672" width="44" height="4.5" fill="#fff"/>
<text class="wh" x="361" y="1664.7" textLength="55" lengthAdjust="spacingAndGlyphs">20 µm</text><rect x="375" y="1672" width="41" height="4.5" fill="#fff"/>
</g>
<g id="chartH">
<text class="wide" transform="translate(469,1670.5) rotate(-90) scale(1,1.25)" font-size="18" textLength="435" lengthAdjust="spacingAndGlyphs">(tdTomato⁺ + EGFP⁺)/ tdTomato⁺ somata (%)</text>
<rect x="602" y="1292" width="122.5" height="3.8" fill="#231f20"/>
<text x="632" y="1305" font-size="42" textLength="58" lengthAdjust="spacing">***</text>
</g>

<!-- PANEL I -->
<text class="ltr" x="798" y="1216">i</text>
<text x="1012.6" y="1221.7" font-size="23" style="fill:#b23fa0" textLength="89.4" lengthAdjust="spacingAndGlyphs">Biocytin</text>
<text x="1108" y="1221.7" font-size="23" style="fill:#b23fa0">+</text>
<text x="1129" y="1221.7" font-size="23" style="fill:#14b0ac" textLength="109.6" lengthAdjust="spacingAndGlyphs">N2c-EGFP</text>
<svg id="i1" x="815" y="1234" width="428" height="454" viewBox="36 103 1016 1362" preserveAspectRatio="none">
<rect x="36" y="103" width="1016" height="1362" fill="#020b0d"/>
<path d="M36 103H420L470 500 300 800 36 560Z" fill="#0a3c3e" filter="url(#b4)"/>
<path d="M36 1040L450 1100 1052 900V1465H36Z" fill="#0a3438" filter="url(#b4)"/>
<ellipse cx="420" cy="560" rx="150" ry="130" fill="#0f7c7e" filter="url(#b4)" opacity=".75"/>
<ellipse cx="870" cy="1190" rx="190" ry="160" fill="#0d7074" filter="url(#b4)" opacity=".8"/>
<ellipse cx="420" cy="980" rx="150" ry="120" fill="#2e1860" filter="url(#b4)"/>
<ellipse cx="455" cy="540" rx="36" ry="34" fill="#3ccaca" filter="url(#b1)"/>
<ellipse cx="140" cy="628" rx="16" ry="14" fill="#8a2c9a" filter="url(#b1)"/>
</svg>
<text class="wh" x="844" y="1663" textLength="54" lengthAdjust="spacingAndGlyphs">50 µm</text><rect x="850.5" y="1667.5" width="45" height="3.5" fill="#fff"/>
<svg x="800" y="1200" width="660" height="502" viewBox="0 0 1568 1506" preserveAspectRatio="none">
<path id="dendriteMain" class="ns" d="M1550 300C1510 330 1480 340 1450 390 1400 450 1390 530 1360 580 1330 610 1300 620 1285 650 1270 730 1250 830 1245 900 1240 960 1225 1020 1200 1080 1170 1170 1150 1260 1140 1330 1125 1390 1110 1430 1095 1465" stroke="#000" stroke-width="8"/>
<path class="ns" d="M1215 105C1205 170 1190 250 1180 320 1175 400 1170 470 1172 530 1180 590 1190 640 1183 690 1178 760 1185 830 1190 880 1180 950 1175 1020 1160 1080 1150 1130 1145 1190 1135 1260" stroke="#000" stroke-width="4"/>
</svg>
<text x="1377.5" y="1660" font-size="19" textLength="44.5" lengthAdjust="spacingAndGlyphs">5 µm</text><rect x="1400.6" y="1666" width="24.4" height="3.5" fill="#000"/>

<!-- PANEL J -->
<text class="ltr" x="1456" y="1217">j</text>
<g id="traceTop"></g>
<svg x="1450" y="1160" width="547" height="542" viewBox="0 0 1568 1568" preserveAspectRatio="none">
<path class="ns" d="M105 210L120 214 135 212 142 225 147 385 153 270 162 228 175 215 195 212 215 208 235 212 250 214 258 225 262 285 268 232 280 214 300 216" stroke="#222" stroke-width="2.2"/>
<path class="ns" d="M245 325V375H215" stroke="#111" stroke-width="3"/>
<path class="ns" d="M1407 268V330H1182" stroke="#111" stroke-width="2.5"/>
<path class="ns" d="M95 710L130 707 139 690 147 420 155 640 165 700 190 717 250 725" stroke="#ec2027" stroke-width="2"/>
<path class="ns" d="M240 600V672H195" stroke="#111" stroke-width="3"/>
<path class="ns" d="M1390 590V650H1222" stroke="#111" stroke-width="2.5"/>
</svg>
<text x="1946.4" y="1269" font-size="18" textLength="45" lengthAdjust="spacingAndGlyphs">20 pA</text>
<text x="1893.7" y="1294.8" font-size="18" textLength="31" lengthAdjust="spacingAndGlyphs">10 s</text>
<text x="1939.4" y="1378.8" font-size="18" textLength="50" lengthAdjust="spacingAndGlyphs">20 mV</text>
<text x="1884" y="1402.6" font-size="18" textLength="57" lengthAdjust="spacingAndGlyphs">100 ms</text>
<g id="traceSteps"></g>
<g id="chartJ">
<text transform="translate(1494.6,1614) rotate(-90)" font-size="22" textLength="139.5" lengthAdjust="spacingAndGlyphs">Firing rate (Hz)</text>
<text x="1658" y="1696.5" font-size="21" textLength="206" lengthAdjust="spacingAndGlyphs">Current injection (pA)</text>
<text x="1864" y="1606" font-size="17" textLength="81" lengthAdjust="spacingAndGlyphs">N=31 cells</text>
</g>
</svg>

<script>
/* ---------- chart data ---------- */
const regionNames = ['DG','CA3','CA2','CA1','Sub','MEC','LEC'];
const densityTicks = [0,5,10,15,20,25];

const vglut1Mean  = [15.6,15.25,14.65,13.5,12.65,15.9,15.27];
const vglut1Upper = [17.0,16.35,15.25,13.85,13.7,16.9,16.5];
const vglut1Lower = [14.2,14.07,14.0,13.15,11.64,15.0,14.0];
const vgatMean  = [8.8,7.67,7.93,7.0,7.47,10.3,9.73];
const vgatUpper = [9.6,8.8,8.7,7.8,8.05,11.0,10.6];
const vgatLower = [7.9,6.55,7.1,6.25,6.85,9.5,8.9];
const cplx3Mean  = [1.2,4.6,3.82,3.47,3.82,7.53,7.15];
const cplx3Upper = [1.4,4.95,4.15,3.75,4.1,8.1,7.7];
const cplx3Lower = [1.0,4.25,3.5,3.2,3.55,6.9,6.55];

const eRatioMean  = [2.0,13.15,8.84,9.2,12.65,13.35,15.95];
const eRatioUpper = [3.0,14.66,9.9,10.85,13.3,14.57,17.57];
const eRatioLower = [1.6,11.6,7.95,7.63,12.0,12.18,14.3];
const iRatioMean  = [3.42,5.03,8.0,9.62,12.7,20.2,18.65];
const iRatioUpper = [3.96,5.95,9.4,11.0,13.9,21.4,21.2];
const iRatioLower = [2.9,4.1,6.65,8.3,11.5,19.1,16.07];

const barCategories = ['HC','EC','SP'];
const barValues = [6.35,0.2,0.38];
const barCountTop = ['106/','10/','2/'];
const barCountBottom = ['1655','4120','461'];
const barTicks = [0,2,4,6,8,10];

const currentSteps = [-50,-25,0,25,50,75,100,125,150,175,200,225,250,275,300];
const firingRate = [0.1,0.1,0.1,0.7,3.6,7.7,10.9,14,17,19.7,21.9,23.4,25.6,27.4,28.9];
const firingErr = [0.2,0.2,0.2,0.3,0.7,0.9,1.1,1.5,1.4,1.6,1.5,1.7,1.7,1.7,2.0];
const firingTicks = [0,10,20,30];
const firingMinorTicks = [5,15,25];
const currentTicks = [0,100,200,300];
const currentMinorTicks = [-50,50,150,250];

const eventTimes = [.44,1.56,2.13,3,4.8,7.6,8.9,12.2,14.1,17.3,18.1,22.1,22.9,24.9,26.9,29.5,30.4,32.9,36.3,39.8,42.4,44.2,44.7,48.8,49.5,50.7,55.2,57.4,57.9,58.4];
const eventAmps = [17,31,30,23,27,17,38,31,22,17,22,46,22,20,25,12,41,29,73,24,41,33,33,27,23,22,14,48,45,20];
const blackSpikes = [2,14,27,39,54,70,84,101,119,139,158,177,202,232,255,276,313,333,366];
const redSpikes = [5,35,65,94,124,154,186,216,257,310,365];

/* ---------- helpers ---------- */
const NS = 'http://www.w3.org/2000/svg';
function mk(tag, parent, attrs){
  const el = document.createElementNS(NS, tag);
  for (const k in attrs) el.setAttribute(k, attrs[k]);
  parent.appendChild(el);
  return el;
}

/* ---------- density charts ---------- */
function densityAxes(g, xOf, yOf, axisX, axisY, tickLeft, catStart, catStep, labelBaseOffset, tickBottom, labelTop, numX){
  const yAxis = mk('line', g, {x1:axisX,x2:axisX,y1:yOf(25)-1.5,y2:axisY+1.5,stroke:'#231f20','stroke-width':3});
  
  
  const xAxis = mk('line', g, {x1:axisX-1.5,x2:catStart+catStep*7+1.5,y1:axisY,y2:axisY,stroke:'#231f20','stroke-width':3});
  
  
  densityTicks.forEach(v => {
    const t = mk('line', g, {x1:tickLeft,x2:axisX,y1:yOf(v),y2:yOf(v),stroke:'#231f20','stroke-width':3});
    
    
    const l = mk('text', g, {x:numX,y:yOf(v)+9.5,'font-size':26,'text-anchor':'end'});
    
    
    l.textContent = v;
  });
  for (let i = 0; i <= regionNames.length; i++) {
    const x = catStart + catStep * i;
    const t = mk('line', g, {x1:x,x2:x,y1:axisY,y2:tickBottom,stroke:'#231f20','stroke-width':2.5});
    
    
  }
  regionNames.forEach((name, i) => {
    const l = mk('text', g, {'class':'wide',transform:'translate('+(xOf(i)+labelBaseOffset)+','+labelTop+') rotate(-90) scale(1,1.3)','font-size':24,'text-anchor':'end'});
    
    
    l.textContent = name;
  });
}
function densitySeries(g, xOf, yOf, mean, upper, lower, color, open){
  const line = mk('path', g, {d:mean.map((v,i)=>(i?'L':'M')+xOf(i)+' '+yOf(v)).join(''),fill:'none',stroke:color,'stroke-width':3});
  
  
  mean.forEach((v,i) => {
    const x = xOf(i);
    const e = mk('path', g, {d:'M'+(x-7.5)+' '+yOf(upper[i])+'h15M'+x+' '+yOf(upper[i])+'V'+yOf(lower[i])+'M'+(x-7.5)+' '+yOf(lower[i])+'h15',fill:'none',stroke:color,'stroke-width':2.6});
    
    
  });
  mean.forEach((v,i) => {
    const c = mk('circle', g, {cx:xOf(i),cy:yOf(v),r:open?8.2:8,fill:open?'#fff':color,stroke:open?color:'#111','stroke-width':open?1.6:1});
    
    
  });
}
const cX = i => 1219 + 43.1 * i;
const cY = v => 463 - 16.06 * v;
const chartC = document.getElementById('chartC');
densityAxes(chartC, cX, cY, 1198.6, 475.4, 1172, 1211, 43.4, 23, 500.7, 489, 1164);
densitySeries(chartC, cX, cY, vglut1Mean, vglut1Upper, vglut1Lower, '#1c4da1', false);
densitySeries(chartC, cX, cY, vgatMean, vgatUpper, vgatLower, '#ec2027', false);
densitySeries(chartC, cX, cY, cplx3Mean, cplx3Upper, cplx3Lower, '#c6399a', false);

const dX = i => 1698 + 43 * i;
const dY = v => 459 - 15.96 * v;
const chartD = document.getElementById('chartD');
densityAxes(chartD, dX, dY, 1663.6, 471.4, 1638.5, 1676.7, 43.1, 9, 496, 480, 1631);
densitySeries(chartD, dX, dY, eRatioMean, eRatioUpper, eRatioLower, '#1c4da1', true);
densitySeries(chartD, dX, dY, iRatioMean, iRatioUpper, iRatioLower, '#ec2027', true);

/* ---------- bar chart ---------- */
const chartH = document.getElementById('chartH');
const hY = v => 1642.7 - 38.1 * v;
const hX = i => 563 + 68.5 * i;
const hAxisY = mk('line', chartH, {x1:551,x2:551,y1:hY(10)-1.5,y2:1648.5,stroke:'#231f20','stroke-width':3});


const hAxisX = mk('line', chartH, {x1:548,x2:764,y1:1648.5,y2:1648.5,stroke:'#231f20','stroke-width':3.5});


barTicks.forEach(v => {
  const t = mk('line', chartH, {x1:521.4,x2:551,y1:hY(v),y2:hY(v),stroke:'#231f20','stroke-width':3.5});
  
  
  const l = mk('text', chartH, {x:514,y:hY(v)+7,'font-size':25,'text-anchor':'end'});
  
  
  l.textContent = v;
});
for (let i = 0; i <= barCategories.length; i++) {
  const x = 556 + 69 * i;
  const t = mk('line', chartH, {x1:x,x2:x,y1:1648.5,y2:1673,stroke:'#231f20','stroke-width':3});
  
  
}
barCategories.forEach((name, i) => {
  const l = mk('text', chartH, {x:hX(i)+23,y:1680,'font-size':24,'text-anchor':'middle'});
  
  
  l.textContent = name;
});
barValues.forEach((v, i) => {
  const r = mk('rect', chartH, {x:hX(i),y:hY(v),width:57,height:Math.max(1,hY(0)-hY(v)-2),fill:i===1?'#bbb':'#fff',stroke:'#231f20','stroke-width':3.4});
  
  
  const cx = hX(i) + 28.5;
  const top = hY(v) - 48;
  const a = mk('text', chartH, {x:cx,y:top,'font-size':23,'text-anchor':'middle',textLength:barCountTop[i].length*9.5+3,lengthAdjust:'spacingAndGlyphs'});
  
  
  a.textContent = barCountTop[i];
  const b = mk('text', chartH, {x:cx,y:top+28,'font-size':23,'text-anchor':'middle',textLength:barCountBottom[i].length*11.7,lengthAdjust:'spacingAndGlyphs'});
  
  
  b.textContent = barCountBottom[i];
});

/* ---------- firing-rate chart ---------- */
const chartJ = document.getElementById('chartJ');
const jX = v => 1612 + 1.121 * v;
const jY = v => 1627.3 - 4.84 * v;
const jAxisY = mk('line', chartJ, {x1:1548.7,x2:1548.7,y1:1464,y2:1636,stroke:'#231f20','stroke-width':3});


const jAxisX = mk('line', chartJ, {x1:1547,x2:1950,y1:1634.2,y2:1634.2,stroke:'#231f20','stroke-width':3});


firingTicks.forEach(v => {
  const t = mk('line', chartJ, {x1:1532,x2:1548.7,y1:jY(v),y2:jY(v),stroke:'#231f20','stroke-width':3});
  
  
  const l = mk('text', chartJ, {x:1527,y:jY(v)+9,'font-size':24,'text-anchor':'end'});
  
  
  l.textContent = v;
});
firingMinorTicks.forEach(v => {
  const t = mk('line', chartJ, {x1:1540,x2:1548.7,y1:jY(v),y2:jY(v),stroke:'#231f20','stroke-width':2.5});
  
  
});
currentTicks.forEach(v => {
  const t = mk('line', chartJ, {x1:jX(v),x2:jX(v),y1:1634.2,y2:1649,stroke:'#231f20','stroke-width':3});
  
  
  const l = mk('text', chartJ, {x:jX(v)+1,y:1672.3,'font-size':22,'text-anchor':'middle'});
  
  
  l.textContent = v;
});
currentMinorTicks.forEach(v => {
  const t = mk('line', chartJ, {x1:jX(v),x2:jX(v),y1:1634.2,y2:1642,stroke:'#231f20','stroke-width':3});
  
  
});
currentSteps.forEach((c, i) => {
  const x = jX(c), y = jY(firingRate[i]), e = firingErr[i];
  const bar = mk('path', chartJ, {d:'M'+(x-4.5)+' '+jY(firingRate[i]+e)+'h9M'+x+' '+jY(firingRate[i]+e)+'V'+jY(firingRate[i]-e)+'M'+(x-4.5)+' '+jY(firingRate[i]-e)+'h9',fill:'none',stroke:'#ec2027','stroke-width':2.4});
  
  
  const p = mk('circle', chartJ, {cx:x,cy:y,r:4.7,fill:'#ec2027',stroke:'#222','stroke-width':1});
  
  
});

/* ---------- ephys traces ---------- */
const tX = t => 1504 + 7.85 * t;
const tY = a => 1189 + 1.106 * a;
const traceTop = document.getElementById('traceTop');
const minis = mk('path', traceTop, {d:'M1504 1195H1971',fill:'none',stroke:'#444','stroke-width':8,'stroke-dasharray':'1 5 1 9 1 4 1 16 1 7 1 23 1 3 1 11'});


const band = mk('path', traceTop, {d:'M1504 1189C1600 1186 1680 1184 1760 1187 1840 1190 1900 1191 1971 1192',fill:'none',stroke:'#1d1d1d','stroke-width':8});


eventTimes.forEach((t, i) => {
  const ev = mk('line', traceTop, {x1:tX(t),x2:tX(t),y1:1189,y2:tY(eventAmps[i]),stroke:i%2?'#808080':'#222','stroke-width':1.3});
  
  
});

const mX = t => 1553.6 + 0.586 * t;
const mY = v => 1424.4 - 1.037 * v;
function stepTrace(spikes, peak, rest, a, b, post, color, width){
  let d = 'M' + mX(-80) + ' ' + mY(rest) + 'L' + mX(0) + ' ' + mY(rest) + 'L' + mX(2) + ' ' + mY(a);
  const level = t => a + (b - a) * t / 395;
  spikes.forEach(t => {
    d += 'L' + mX(t) + ' ' + mY(level(t)) + 'L' + mX(t+.6) + ' ' + mY(peak) + 'L' + mX(t+1.6) + ' ' + mY(level(t)-5) + 'L' + mX(t+7) + ' ' + mY(level(t)-1);
  });
  d += 'L' + mX(395) + ' ' + mY(b) + 'L' + mX(398) + ' ' + mY(b*.3+post*.7) + 'L' + mX(420) + ' ' + mY(post) + 'L' + mX(714) + ' ' + mY(post);
  const p = mk('path', document.getElementById('traceSteps'), {d:d,fill:'none',stroke:color,'stroke-width':width,'stroke-linejoin':'round'});
  
  
}
stepTrace([], 0, 3, -12, -11, 6, '#1c4da1', 3);
stepTrace(redSpikes, 118, 1, 14, 20, -2, '#ec2027', 2.6);
stepTrace(blackSpikes, 118, -1, 20, 23, -5, '#1a1a1a', 2.6);

/* ---------- microscopy texture (decorative, not chart data) ---------- */
function rng(seed){let s=seed;return function(){s=(s*1664525+1013904223)%4294967296;return s/4294967296;};}
function speck(id, o){
  const r = rng(o.seed || 7);
  let d = '';
  for (let i = 0; i < o.n; i++) {
    let x, y;
    if (o.along) {
      const k = Math.floor(r() * (o.along.length - 1));
      const f = r(), a = o.along[k], b = o.along[k+1];
      x = a[0] + (b[0]-a[0]) * f + (r()+r()+r()-1.5) * o.spread;
      y = a[1] + (b[1]-a[1]) * f + (r()+r()+r()-1.5) * (o.spreadY || o.spread);
    } else {
      x = o.box[0] + r() * o.box[2];
      y = o.box[1] + r() * o.box[3];
    }
    if (o.test && !o.test(x, y)) continue;
    if (o.len) {
      const ang = o.ang[0] + r() * (o.ang[1] - o.ang[0]);
      d += 'M' + x.toFixed(1) + ' ' + y.toFixed(1) + 'l' + (Math.cos(ang)*o.len).toFixed(1) + ' ' + (Math.sin(ang)*o.len).toFixed(1);
    } else {
      d += 'M' + x.toFixed(1) + ' ' + y.toFixed(1) + 'h.01';
    }
  }
  const p = mk('path', document.getElementById(id), {d:d,fill:'none',stroke:o.color,'stroke-width':o.size,'stroke-linecap':'round','vector-effect':'non-scaling-stroke',opacity:o.op||1});
  
  
}
function blackHole(id, cx, cy, rad){
  const c = mk('circle', document.getElementById(id), {cx:cx,cy:cy,r:rad,fill:'#050505',filter:'url(#b1)'});
  
  
}
speck('b1a',{n:1700,box:[0,0,227,223],color:'#1c9c50',size:3,seed:14});
speck('b1a',{n:800,along:[[113,10],[113,90]],spread:250,spreadY:90,color:'#1fae58',size:3,seed:11,test:(x,y)=>x>=0&&x<=227&&y>=0});
speck('b1a',{n:1150,box:[0,0,227,223],color:'#9a3598',size:2.7,seed:12});
speck('b1a',{n:600,along:[[113,190],[113,120]],spread:250,spreadY:90,color:'#1c9c50',size:2.6,seed:15,test:(x,y)=>x>=0&&x<=227&&y<=223});
speck('b1a',{n:160,box:[0,0,227,223],color:'#e8e0e8',size:1.6,seed:13,op:.7});
blackHole('b1a',162,160,19);blackHole('b1a',117,173,14);blackHole('b1a',35,190,13);
speck('b1b',{n:85,box:[0,0,97,105],color:'#1f9a50',size:4.4,seed:21});
speck('b1b',{n:70,box:[0,0,97,105],color:'#a83aa0',size:4.6,seed:22});
speck('b1b',{n:6,box:[0,0,97,105],color:'#fff',size:4,seed:23});
speck('b1c',{n:190,box:[0,0,97,105],color:'#2aae5a',size:6.5,seed:24});
speck('b1c',{n:90,box:[0,0,97,105],color:'#b83ea8',size:6,seed:25});
speck('b1c',{n:24,box:[0,0,97,105],color:'#fff',size:4.5,seed:26});
speck('b2a',{n:1500,box:[0,0,227,223],color:'#1c9c50',size:3.2,seed:31});
speck('b2a',{n:1300,box:[0,0,227,223],color:'#9a3598',size:3,seed:32});
speck('b2a',{n:70,box:[0,0,227,223],color:'#e8e0e8',size:1.6,seed:33,op:.7});
blackHole('b2a',128,95,20);
speck('b2b',{n:50,box:[0,0,97,105],color:'#1f9a50',size:3.6,seed:41});
speck('b2b',{n:40,box:[0,0,97,105],color:'#a83aa0',size:3.4,seed:42});
speck('b2c',{n:95,box:[0,0,97,105],color:'#2aae5a',size:6,seed:44});
speck('b2c',{n:85,box:[0,0,97,105],color:'#b83ea8',size:6,seed:45});
speck('b2c',{n:18,box:[0,0,97,105],color:'#fff',size:4.5,seed:46});

speck('e1',{n:300,box:[160,820,170,170],color:'#3ab8c0',size:1.8,seed:51,test:(x,y)=>y>930-(x-170)*.8&&x+y>1090});
speck('e1',{n:70,along:[[290,860],[400,1030]],spread:35,color:'#fff',size:1.5,seed:52});
speck('e1',{n:500,box:[130,980,180,380],color:'#f03a44',size:1.5,seed:53,op:.8});
speck('e2',{n:80,along:[[700,900],[640,1180]],spread:30,color:'#fff',size:1.6,seed:54});
speck('e2',{n:160,along:[[730,1360],[830,1500]],spread:60,color:'#4ac4cc',size:1.3,seed:55,op:.8});
speck('e3',{n:150,along:[[1440,770],[1290,900],[1220,1080],[1180,1300],[1240,1530]],spread:70,color:'#28b4b8',size:6,seed:56});
speck('e3',{n:60,along:[[1350,820],[1290,980],[1190,1100],[1180,1300],[1240,1500]],spread:60,color:'#f4e8e8',size:5,seed:57});
speck('e3',{n:40,along:[[1310,850],[1190,1120],[1210,1400]],spread:60,color:'#d02030',size:5,seed:58});
speck('e3',{n:200,box:[1350,730,177,810],color:'#bcd4d4',size:1,seed:59,op:.4});
speck('e3',{n:30,box:[1440,1470,80,60],color:'#3ab8c0',size:5,seed:60});

speck('f1',{n:160,along:[[130,400],[130,200],[250,240],[340,380]],spread:30,color:'#48c8c8',size:1.5,seed:61});
speck('f1',{n:70,box:[110,590,90,85],color:'#f6e6e6',size:1.7,seed:62});
speck('f1',{n:240,along:[[475,960],[450,1180],[400,1320],[340,1430]],spread:45,color:'#6ae0e0',size:2.2,seed:63});
speck('f1',{n:120,along:[[140,1100],[230,1260],[320,1410]],spread:25,color:'#f6c0c0',size:1.6,seed:64});

const f2Red = (x,y) => y > (x < 850 ? 610 + (x-580)*1.9 : 1120 + (x-850)*.85) && !(x < 660 && y > 1310);
speck('f2',{n:460,box:[580,560,471,967],color:'#f02030',size:10.5,seed:71,test:f2Red});
speck('f2',{n:36,box:[580,1300,110,227],color:'#52c4c4',size:14,seed:72});
speck('f2',{n:150,box:[760,440,291,820],color:'#58a8a8',size:1,seed:73,len:85,ang:[1.2,1.75],op:.25});
speck('f2',{n:90,along:[[620,130],[770,370],[860,450]],spread:60,color:'#7fb8b8',size:1,seed:74,len:70,ang:[.7,1.15],op:.45});
speck('f2',{n:110,along:[[830,440],[950,510],[1045,510]],spread:80,color:'#5ed0d0',size:1,seed:77,len:70,ang:[.2,.7],op:.6});
speck('f2',{n:9,along:[[640,160],[800,210],[760,310]],spread:14,color:'#3ecaca',size:7,seed:75});
speck('f2',{n:8,along:[[800,540],[900,590],[965,620]],spread:14,color:'#3ecaca',size:7,seed:76});

speck('g1',{n:300,along:[[1150,400],[1300,470],[1420,470]],spread:130,spreadY:150,color:'#a02ca8',size:5.5,seed:81,op:.55});
speck('g1',{n:30,along:[[1200,340],[1290,270]],spread:40,color:'#c040c0',size:5,seed:82});
speck('g1',{n:30,along:[[1430,320],[1480,200]],spread:50,color:'#a030b0',size:5,seed:83});
speck('g2',{n:160,box:[1083,880,458,647],color:'#3a8aa0',size:1,seed:84,len:50,ang:[1.0,2.1],op:.4});
speck('g2',{n:110,along:[[1170,1200],[1320,1290],[1450,1230]],spread:130,color:'#a060d0',size:3.4,seed:85,op:.6});
speck('g2',{n:40,along:[[1220,1200],[1340,1290]],spread:110,color:'#5ed0d8',size:5,seed:86});
speck('g2',{n:16,along:[[1200,1240],[1340,1300]],spread:100,color:'#f2f2ff',size:5,seed:87});
speck('g2',{n:14,along:[[1470,1050],[1420,1220]],spread:40,color:'#48c8d0',size:5,seed:88});

speck('h1',{n:120,box:[55,183,485,240],color:'#30c0b8',size:3.2,seed:91,test:(x,y)=>y<360-(x-55)*.08&&x<470});
speck('h1',{n:70,box:[55,400,485,390],color:'#b8d8c0',size:2.4,seed:92,op:.8});
speck('h1',{n:170,box:[55,590,485,200],color:'#a02028',size:1,seed:93,len:70,ang:[1.3,1.9],op:.6});
speck('h3',{n:120,box:[55,920,485,240],color:'#30c0b8',size:3.2,seed:94,test:(x,y)=>y<1090-(x-55)*.08&&x<470});
speck('h3',{n:80,box:[55,1150,485,370],color:'#8ab4e8',size:2.4,seed:95,op:.85});
speck('h3',{n:50,box:[55,1330,485,190],color:'#30c0b8',size:2.4,seed:96});
speck('h2',{n:80,box:[565,178,275,300],color:'#101010',size:4,seed:97,op:.5});

speck('i1',{n:140,box:[36,103,400,600],color:'#2c9a9c',size:1,seed:101,len:90,ang:[.9,1.2],op:.45});
speck('i1',{n:260,box:[36,1000,1016,465],color:'#2c8a8c',size:1,seed:102,len:45,ang:[1.1,2.1],op:.4});
speck('i1',{n:30,box:[560,103,480,400],color:'#1f6a6c',size:1,seed:103,len:70,ang:[1.4,1.9],op:.5});
speck('i1',{n:110,along:[[170,400],[300,520],[430,600],[560,680],[720,700]],spread:120,spreadY:190,color:'#3ccaca',size:9.5,seed:104});
speck('i1',{n:10,along:[[700,490],[860,490]],spread:14,color:'#3ccaca',size:9,seed:105});
speck('i1',{n:36,along:[[620,1240],[800,1230],[940,1150]],spread:130,color:'#3ccaca',size:9,seed:106});
speck('i1',{n:90,box:[560,1000,490,460],color:'#3aa6a8',size:3,seed:107,op:.6});
speck('i1',{n:20,along:[[300,970],[560,1080]],spread:70,color:'#48d0d0',size:8,seed:108});
const i1 = document.getElementById('i1');
const biocytin = mk('path', i1, {d:'M395 1072C340 1030 290 980 270 950M395 1072C370 990 390 900 380 870M395 1072C440 1010 460 950 450 900M395 1072C330 1100 310 1090 300 1100M395 1072C410 1120 470 1160 555 1168M555 1168C490 1060 450 870 440 690M555 1168C530 1050 300 800 240 710M555 1168C600 1050 650 920 670 830M555 1168C640 1120 670 1040 740 1010 800 980 890 975 1030 1050M885 975C890 950 905 935 930 915M555 1168C650 1190 800 1200 910 1215 970 1240 990 1280 1025 1320M555 1168C640 1210 730 1270 790 1340M555 1168C500 1210 480 1230 470 1290M555 1168C520 1030 470 900 400 830M555 1168C560 1050 560 950 600 880',fill:'none',stroke:'#a83ab4','stroke-width':2,'vector-effect':'non-scaling-stroke'});


const thick = mk('path', i1, {d:'M395 1072C350 1040 300 1000 280 970M395 1072C390 1000 380 930 385 880M395 1072C430 1020 450 970 455 920M395 1072C360 1090 330 1100 305 1100M395 1072C440 1100 500 1140 555 1168',fill:'none',stroke:'#d8359c','stroke-width':5,'vector-effect':'non-scaling-stroke',filter:'url(#b1)'});


const soma1 = mk('ellipse', i1, {cx:395,cy:1072,rx:22,ry:18,fill:'#f08ac0',filter:'url(#b1)'});


const soma2 = mk('ellipse', i1, {cx:555,cy:1168,rx:24,ry:22,fill:'#f890c8',filter:'url(#b1)'});



const dendrite = document.getElementById('dendriteMain').parentNode;
speck2();
function speck2(){
  const r = rng(111);
  const pts = [[1490,340],[1420,430],[1370,560],[1290,660],[1262,790],[1245,900],[1215,1030],[1170,1170],[1140,1320],[1195,250],[1175,420],[1185,640],[1185,850],[1160,1060]];
  let d = '';
  for (let i = 0; i < 170; i++) {
    const p = pts[Math.floor(r()*pts.length)];
    d += 'M' + (p[0]+(r()-.5)*60).toFixed(0) + ' ' + (p[1]+(r()-.5)*130).toFixed(0) + 'h.01';
  }
  const s = mk('path', dendrite, {d:d,fill:'none',stroke:'#111','stroke-width':4,'stroke-linecap':'round','vector-effect':'non-scaling-stroke'});
  
  
}
</script>
</body>
</html>
